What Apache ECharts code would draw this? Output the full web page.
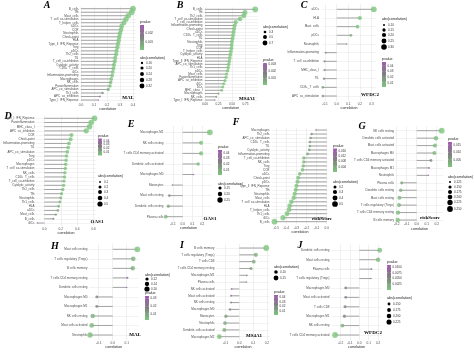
<!DOCTYPE html>
<html><head><meta charset="utf-8">
<script src="https://cdn.jsdelivr.net/npm/echarts@6/dist/echarts.min.js"></script>
<style>html,body{margin:0;padding:0;background:#fff}#c{width:474px;height:355px}</style>
</head><body><div id="c"></div>
<script>
// ---------------- DATA ----------------
const A_cats = ["B_cells","Tfh","Mast_cells","T_cell_co-stimulation","T_helper_cells","aDCs","CCR","Neutrophils","Check-point","HLA","Type_II_IFN_Reponse","Treg","pDCs","Th2_cells","TIL","T_cell_co-inhibition","Cytolytic_activity","CD8+_T_cells","iDCs","Inflammation-promoting","Macrophages","NK_cells","Parainflammation","APC_co_stimulation","Th1_cells","APC_co_inhibition","Type_I_IFN_Reponse"];
const A_vals = [0.40,0.39,0.364,0.346,0.33,0.313,0.308,0.30,0.295,0.29,0.285,0.28,0.274,0.27,0.264,0.26,0.254,0.25,0.244,0.24,0.233,0.228,0.223,0.21,0.166,0.146,0.133];
const A_p = [0.0001,0.0001,0.0001,0.0001,0.0001,0.0001,0.0001,0.0001,0.0001,0.0001,0.0001,0.0001,0.0001,0.0001,0.0001,0.0002,0.0002,0.0002,0.0002,0.0002,0.0002,0.0003,0.0003,0.0004,0.0012,0.0019,0.0029];
const A_ticks = [0,0.1,0.2,0.3,0.4];
const A_sizeBreaks = [0.16,0.20,0.24,0.28,0.32];
const A_pBreaks = [0.002,0.001];

const B_cats = ["B_cells","Tfh","Th2_cells","T_cell_co-stimulation","T_cell_co-inhibition","Inflammation-promoting","Check-point","aDCs","CD8+_T_cells","TIL","Neutrophils","Treg","CCR","T_helper_cells","Cytolytic_activity","HLA","Type_II_IFN_Reponse","APC_co_stimulation","Th1_cells","pDCs","Mast_cells","Parainflammation","APC_co_inhibition","iDCs","DCs","MHC_class_I","Macrophages","NK_cells","Type_I_IFN_Reponse"];
const B_vals = [0.93,0.74,0.72,0.65,0.57,0.55,0.54,0.53,0.52,0.51,0.50,0.495,0.49,0.48,0.47,0.46,0.45,0.44,0.43,0.42,0.40,0.39,0.37,0.35,0.33,0.31,0.25,0.21,0.18];
const B_p = [0.0001,0.0001,0.0001,0.0001,0.0001,0.0001,0.0001,0.0001,0.0001,0.0001,0.0001,0.0001,0.0001,0.0001,0.0001,0.0001,0.0001,0.0001,0.0001,0.0001,0.0001,0.0001,0.0001,0.0001,0.0001,0.0003,0.0006,0.0012,0.0031];
const B_ticks = [0,0.25,0.5,0.75];
const B_sizeBreaks = [0.3,0.5,0.7];
const B_pBreaks = [0.003,0.002,0.001];

const C_cats = ["aDCs","HLA","Mast_cells","pDCs","Neutrophils","Inflammation-promoting","T_cell_co-inhibition","MHC_class_I","TIL","CD8+_T_cells","APC_co_stimulation"];
const C_vals = [0.32,0.20,0.18,0.123,0.086,-0.095,-0.105,-0.105,-0.11,-0.12,-0.12];
const C_p = [0.0023,0.003,0.004,0.012,0.047,0.03,0.022,0.022,0.018,0.015,0.015];
const C_ticks = [-0.1,0,0.1,0.2,0.3];
const C_sizeBreaks = [0.10,0.15,0.20,0.25,0.30];
const C_pBreaks = [0.04,0.03,0.02,0.01];

const D_cats = ["Type_I_IFN_Reponse","Parainflammation","MHC_class_I","APC_co_inhibition","CCR","Check-point","Inflammation-promoting","TIL","APC_co_stimulation","Treg","pDCs","Macrophages","T_cell_co-stimulation","NK_cells","CD8+_T_cells","T_cell_co-inhibition","Cytolytic_activity","Th2_cells","Tfh","Neutrophils","Th1_cells","HLA","aDCs","Mast_cells","B_cells","iDCs"];
const D_vals = [0.61,0.57,0.55,0.51,0.33,0.32,0.30,0.29,0.28,0.27,0.265,0.26,0.255,0.25,0.245,0.24,0.235,0.225,0.21,0.20,0.19,0.175,0.165,0.14,0.11,-0.085];
const D_p = [0.0005,0.0005,0.0005,0.0005,0.001,0.001,0.001,0.001,0.0012,0.0012,0.0013,0.0014,0.0015,0.0016,0.0017,0.0018,0.002,0.0025,0.003,0.004,0.005,0.007,0.009,0.014,0.03,0.046];
const D_ticks = [0,0.2,0.4,0.6];
const D_sizeBreaks = [0.1,0.2,0.3,0.4,0.5];
const D_pBreaks = [0.04,0.03,0.02,0.01];

const E_cats = ["Macrophages M1","NK cells resting","T cells CD4 memory activated","Dendritic cells activated","Macrophages M0","Monocytes","Mast cells resting","Dendritic cells resting","Plasma cells"];
const E_vals = [0.28,0.19,0.19,0.16,0.11,-0.107,-0.138,-0.149,-0.175];
const E_p = [0.001,0.003,0.003,0.005,0.045,0.038,0.018,0.012,0.006];
const E_ticks = [-0.1,0,0.1,0.2];
const E_sizeBreaks = [0.15,0.20,0.25];
const E_pBreaks = [0.04,0.03,0.02,0.01];

const F_cats = ["Macrophages","Th2_cells","APC_co_stimulation","CD8+_T_cells","TIL","Cytolytic_activity","Inflammation-promoting","T_cell_co-inhibition","NK_cells","Treg","CCR","aDCs","Check-point","pDCs","Type_II_IFN_Reponse","Tfh","Neutrophils","Mast_cells","T_cell_co-stimulation","HLA","T_helper_cells","Th1_cells","iDCs","B_cells"];
const F_vals = [-0.107,-0.15,-0.16,-0.167,-0.167,-0.173,-0.19,-0.227,-0.227,-0.233,-0.24,-0.267,-0.283,-0.29,-0.30,-0.307,-0.317,-0.327,-0.35,-0.367,-0.373,-0.393,-0.433,-0.517];
const F_p = [0.018,0.008,0.007,0.006,0.006,0.005,0.004,0.002,0.002,0.002,0.0015,0.001,0.0008,0.0008,0.0006,0.0006,0.0005,0.0005,0.0004,0.0004,0.0004,0.0003,0.0002,0.0001];
const F_ticks = [-0.5,-0.4,-0.3,-0.2,-0.1,0];
const F_sizeBreaks = [0.2,0.3,0.4,0.5];
const F_pBreaks = [0.016,0.012,0.008,0.004];

const G_cats = ["NK cells resting","Dendritic cells activated","Mast cells activated","Macrophages M0","T cells CD4 memory activated","Macrophages M1","Neutrophils","Plasma cells","Dendritic cells resting","Mast cells resting","T cells regulatory (Tregs)","T cells CD4 memory resting","B cells memory"];
const G_vals = [0.25,0.193,0.183,0.177,0.143,0.123,0.117,-0.15,-0.16,-0.173,-0.177,-0.187,-0.19];
const G_p = [0.0001,0.001,0.0015,0.002,0.007,0.012,0.017,0.004,0.003,0.002,0.002,0.0015,0.0012];
const G_ticks = [-0.2,-0.1,0,0.1,0.2];
const G_sizeBreaks = [0.125,0.150,0.175,0.200,0.225,0.250];
const G_pBreaks = [0.015,0.010,0.005];

const H_cats = ["Mast cells resting","T cells regulatory (Tregs)","B cells memory","T cells CD4 memory resting","Dendritic cells resting","Macrophages M0","Macrophages M1","NK cells resting","Mast cells activated","Neutrophils"];
const H_vals = [0.176,0.147,0.143,0.105,0.10,-0.114,-0.114,-0.143,-0.15,-0.162];
const H_p = [0.002,0.006,0.007,0.028,0.033,0.02,0.02,0.007,0.005,0.004];
const H_ticks = [-0.1,0,0.1];
const H_sizeBreaks = [0.12,0.14,0.16];
const H_pBreaks = [0.03,0.02,0.01];

const I_cats = ["B cells memory","T cells regulatory (Tregs)","T cells CD8","T cells CD4 memory resting","Macrophages M1","Plasma cells","NK cells activated","Mast cells activated","NK cells resting","Macrophages M0","Monocytes","Neutrophils","Dendritic cells activated","Macrophages M2"];
const I_vals = [0.195,0.12,0.105,0.085,0.055,0.052,-0.056,-0.06,-0.06,-0.068,-0.097,-0.104,-0.109,-0.145];
const I_p = [0.001,0.008,0.01,0.014,0.04,0.045,0.035,0.033,0.033,0.03,0.013,0.011,0.009,0.003];
const I_ticks = [-0.1,0,0.1,0.2];
const I_sizeBreaks = [0.1,0.15];
const I_pBreaks = [0.04,0.03,0.02,0.01];

const J_cats = ["Dendritic cells resting","Mast cells resting","Plasma cells","T cells regulatory (Tregs)","Macrophages M0","Mast cells activated","T cells CD8","Macrophages M1","NK cells resting","T cells CD4 memory activated"];
const J_vals = [0.217,0.20,0.13,0.124,-0.145,-0.145,-0.152,-0.159,-0.18,-0.258];
const J_p = [0.0005,0.001,0.0095,0.0108,0.0075,0.007,0.006,0.005,0.002,0.0001];
const J_ticks = [-0.2,-0.1,0,0.1,0.2];
const J_sizeBreaks = [0.150,0.175,0.200,0.225];
const J_pBreaks = [0.0100,0.0075,0.0050,0.0025];

// ---------------- PANELS ----------------
const panels = [
  {id:'A', gene:'MAL',   cats:A_cats, vals:A_vals, p:A_p, ticks:A_ticks, sb:A_sizeBreaks, pb:A_pBreaks, dec:1, pdec:3, sdec:2},
  {id:'B', gene:'MS4A1', cats:B_cats, vals:B_vals, p:B_p, ticks:B_ticks, sb:B_sizeBreaks, pb:B_pBreaks, dec:2, pdec:3, sdec:1},
  {id:'C', gene:'WFDC2', cats:C_cats, vals:C_vals, p:C_p, ticks:C_ticks, sb:C_sizeBreaks, pb:C_pBreaks, dec:1, pdec:2, sdec:2},
  {id:'D', gene:'OAS1',  cats:D_cats, vals:D_vals, p:D_p, ticks:D_ticks, sb:D_sizeBreaks, pb:D_pBreaks, dec:1, pdec:2, sdec:1},
  {id:'E', gene:'OAS1',  cats:E_cats, vals:E_vals, p:E_p, ticks:E_ticks, sb:E_sizeBreaks, pb:E_pBreaks, dec:1, pdec:2, sdec:2},
  {id:'F', gene:'riskScore', cats:F_cats, vals:F_vals, p:F_p, ticks:F_ticks, sb:F_sizeBreaks, pb:F_pBreaks, dec:1, pdec:3, sdec:1},
  {id:'G', gene:'riskScore', cats:G_cats, vals:G_vals, p:G_p, ticks:G_ticks, sb:G_sizeBreaks, pb:G_pBreaks, dec:1, pdec:3, sdec:3},
  {id:'H', gene:'MAL',   cats:H_cats, vals:H_vals, p:H_p, ticks:H_ticks, sb:H_sizeBreaks, pb:H_pBreaks, dec:1, pdec:2, sdec:2},
  {id:'I', gene:'MS4A1', cats:I_cats, vals:I_vals, p:I_p, ticks:I_ticks, sb:I_sizeBreaks, pb:I_pBreaks, dec:1, pdec:2, sdec:2},
  {id:'J', gene:'WFDC2', cats:J_cats, vals:J_vals, p:J_p, ticks:J_ticks, sb:J_sizeBreaks, pb:J_pBreaks, dec:1, pdec:4, sdec:3}
];

// ---------------- LAYOUT (pixels) ----------------
const layout = {
  A:{x0:81, ppu:130, left:79.5, right:136, rowTop:8.7, rowBot:100, labRight:78.5, tickY:105, nameY:109, letter:[47,5], geneXY:[128,98],
     lg:{x:140, order:['p','a'], pTitleY:22, barTop:25, barBot:50, aTitleY:58, dotYs:[63,68,74,80,86]}},
  B:{x0:205, ppu:54, left:203.5, right:258, rowTop:9.3, rowBot:100, labRight:202.5, tickY:104, nameY:108, letter:[180,5], geneXY:[247,99],
     lg:{x:263, order:['a','p'], aTitleY:27, dotYs:[32,37,43], pTitleY:60, barTop:63, barBot:85}},
  C:{x0:336.7, ppu:116, left:322, right:376, rowTop:9.3, rowBot:96, labRight:319, tickY:104, nameY:107.5, letter:[304,5], geneXY:[370,95],
     lg:{x:382, order:['a','p'], aTitleY:19, dotYs:[25,30,35,41,47], pTitleY:59, barTop:62, barBot:87}},
  D:{x0:43.5, ppu:83.5, left:35, right:96, rowTop:118.3, rowBot:223, labRight:33.5, tickY:229, nameY:232.5, letter:[8,116], geneXY:[97,222],
     lg:{x:98, order:['p','a'], pTitleY:136, barTop:138.5, barBot:155.5, aTitleY:176, dotYs:[182,187,192,198,204]}},
  E:{x0:182.7, ppu:97, left:165, right:212, rowTop:132.3, rowBot:216.7, labRight:163.5, tickY:224, nameY:228, letter:[131,124], geneXY:[210,219],
     lg:{x:218, order:['p','a'], pTitleY:147, barTop:150, barBot:175, aTitleY:184, dotYs:[188,194,200]}},
  F:{x0:326.7, ppu:101, left:271.5, right:328.5, rowTop:130, rowBot:221.7, labRight:269.5, tickY:228, nameY:231.5, letter:[236,122], geneXY:[322,219],
     lg:{x:333, order:['p','a'], pTitleY:146, barTop:148.5, barBot:172, aTitleY:182, dotYs:[187,192,198,204]}},
  G:{x0:416.7, ppu:100, left:395.5, right:443.5, rowTop:130.7, rowBot:220, labRight:394, tickY:224.3, nameY:228.3, letter:[362,126], geneXY:[430,218],
     lg:{x:448, order:['p','a'], pTitleY:139, barTop:142, barBot:167, aTitleY:177, dotYs:[182,187,192,197,202.5,209]}},
  H:{x0:112.7, ppu:140, left:89, right:138.5, rowTop:249.3, rowBot:335, labRight:87.5, tickY:343, nameY:347, letter:[55,246], geneXY:[135,335],
     lg:{x:145, order:['a','p'], aTitleY:275, dotYs:[279,284,289], pTitleY:293, barTop:296, barBot:320}},
  I:{x0:239.3, ppu:138, left:216, right:270, rowTop:248, rowBot:336.7, labRight:214.5, tickY:343, nameY:347, letter:[182,245], geneXY:[254,336],
     lg:{x:274, order:['a','p'], aTitleY:267, dotYs:[272,278], pTitleY:292, barTop:295, barBot:315}},
  J:{x0:359.3, ppu:94, left:331, right:382, rowTop:250.3, rowBot:335, labRight:329.5, tickY:343, nameY:347, letter:[300,245], geneXY:[373,333],
     lg:{x:387, order:['p','a'], pTitleY:262, barTop:265, barBot:290, aTitleY:298, dotYs:[304,310,316,322]}}
};

// ---------------- STYLE HELPERS ----------------
const GREEN=[125,198,125], MID=[128,128,128], PURPLE=[162,92,176];
function mix(a,b,t){return a.map((v,i)=>Math.round(v+(b[i]-v)*t));}
function pColor(t){
  t=Math.max(0,Math.min(1,t));
  const c = t<0.5 ? mix(GREEN,MID,t/0.5) : mix(MID,PURPLE,(t-0.5)/0.5);
  return 'rgb('+c.join(',')+')';
}
const DMIN=1.5, DMAX=5.8;
function makeSize(vals){
  const a=vals.map(Math.abs), lo=Math.min(...a), hi=Math.max(...a);
  return v=>{let t=(Math.abs(v)-lo)/(hi-lo); t=Math.max(0,Math.min(1,t)); return Math.sqrt(DMIN*DMIN+t*(DMAX*DMAX-DMIN*DMIN));};
}
const FONT='Liberation Sans';
const SERIF='Liberation Serif';

const grids=[], xAxes=[], yAxes=[], series=[], graphics=[];
panels.forEach((P,i)=>{
  const L=layout[P.id], n=P.cats.length;
  const step=(L.rowBot-L.rowTop)/(n-1);
  const gTop=L.rowTop-0.6*step, gBot=L.rowBot+0.6*step;
  const idx=P.cats.map((c,k)=>k);
  const sizeFn=makeSize(P.vals);
  const pmin=Math.min(...P.p), pmax=Math.max(...P.p);
  grids.push({left:L.left, top:gTop, width:L.right-L.left, height:gBot-gTop});
  xAxes.push({gridIndex:i, type:'value', min:(L.left-L.x0)/L.ppu, max:(L.right-L.x0)/L.ppu,
    axisLine:{show:false}, axisTick:{show:false, customValues:P.ticks},
    axisLabel:{customValues:P.ticks, formatter:v=>v.toFixed(P.dec), fontSize:3.2, color:'#4d4d4d', fontFamily:FONT, margin:L.tickY-1.6-gBot},
    splitLine:{show:true, lineStyle:{color:'#e6e6e6', width:0.6}},
    name:'correlation', nameLocation:'middle', nameGap:L.nameY-1.8-gBot,
    nameTextStyle:{fontSize:3.6, color:'#1a1a1a', fontFamily:FONT}});
  yAxes.push({gridIndex:i, type:'value', inverse:true, min:-0.6, max:n-0.4,
    axisLine:{show:false}, axisTick:{show:false, customValues:idx},
    axisLabel:{customValues:idx, formatter:v=>P.cats[Math.round(v)]||'', fontSize:3, color:'#4d4d4d', fontFamily:FONT, margin:L.left-L.labRight},
    splitLine:{show:true, lineStyle:{color:'#ebebeb', width:0.6}}});
  series.push({type:'custom', xAxisIndex:i, yAxisIndex:i, silent:true, z:2,
    data:P.vals.map((v,k)=>[v,k]),
    renderItem:(params,api)=>{
      const a=api.coord([0,api.value(1)]), b=api.coord([api.value(0),api.value(1)]);
      return {type:'line', shape:{x1:a[0],y1:a[1],x2:b[0],y2:b[1]}, style:{stroke:'#9a9a9a', lineWidth:0.9}};
    }});
  series.push({type:'scatter', xAxisIndex:i, yAxisIndex:i, silent:true, z:3, clip:false,
    data:P.vals.map((v,k)=>({value:[v,k], symbolSize:sizeFn(v), itemStyle:{color:pColor((P.p[k]-pmin)/(pmax-pmin))}}))});

  graphics.push({type:'text', x:L.letter[0], y:L.letter[1], style:{text:P.id, font:'italic bold 10px '+SERIF, fill:'#000', textAlign:'center', textVerticalAlign:'middle'}});
  graphics.push({type:'text', x:L.geneXY[0], y:L.geneXY[1], style:{text:P.gene, font:'bold 5px '+SERIF, fill:'#000', textAlign:'center', textVerticalAlign:'middle'}, z:10});

  const lg=L.lg, x=lg.x;
  graphics.push({type:'text', x:x, y:lg.pTitleY, style:{text:'pvalue', font:'3.6px '+FONT, fill:'#1a1a1a', textVerticalAlign:'middle'}});
  graphics.push({type:'rect', shape:{x:x, y:lg.barTop, width:4, height:lg.barBot-lg.barTop},
    style:{fill:new echarts.graphic.LinearGradient(0,0,0,1,[{offset:0,color:pColor(1)},{offset:0.5,color:pColor(0.5)},{offset:1,color:pColor(0)}])}});
  P.pb.forEach(b=>{
    const y=lg.barBot-(b-pmin)/(pmax-pmin)*(lg.barBot-lg.barTop);
    if(y<lg.barTop-0.5||y>lg.barBot+0.5) return;
    graphics.push({type:'line', shape:{x1:x,y1:y,x2:x+0.8,y2:y}, style:{stroke:'#fff', lineWidth:0.4}});
    graphics.push({type:'line', shape:{x1:x+3.2,y1:y,x2:x+4,y2:y}, style:{stroke:'#fff', lineWidth:0.4}});
    graphics.push({type:'text', x:x+5.5, y:y, style:{text:b.toFixed(P.pdec), font:'3px '+FONT, fill:'#333', textVerticalAlign:'middle'}});
  });
  graphics.push({type:'text', x:x, y:lg.aTitleY, style:{text:'abs(correlation)', font:'3.6px '+FONT, fill:'#1a1a1a', textVerticalAlign:'middle'}});
  P.sb.forEach((b,k)=>{
    const y=lg.dotYs[k];
    graphics.push({type:'circle', shape:{cx:x+2, cy:y, r:sizeFn(b)/2}, style:{fill:'#000'}});
    graphics.push({type:'text', x:x+6, y:y, style:{text:b.toFixed(P.sdec), font:'3px '+FONT, fill:'#333', textVerticalAlign:'middle'}});
  });
});

const chart=echarts.init(document.getElementById('c'), null, {renderer:'canvas'});
chart.setOption({animation:false, backgroundColor:'#fff', grid:grids, xAxis:xAxes, yAxis:yAxes, series:series, graphic:{elements:graphics}});
</script></body></html>
